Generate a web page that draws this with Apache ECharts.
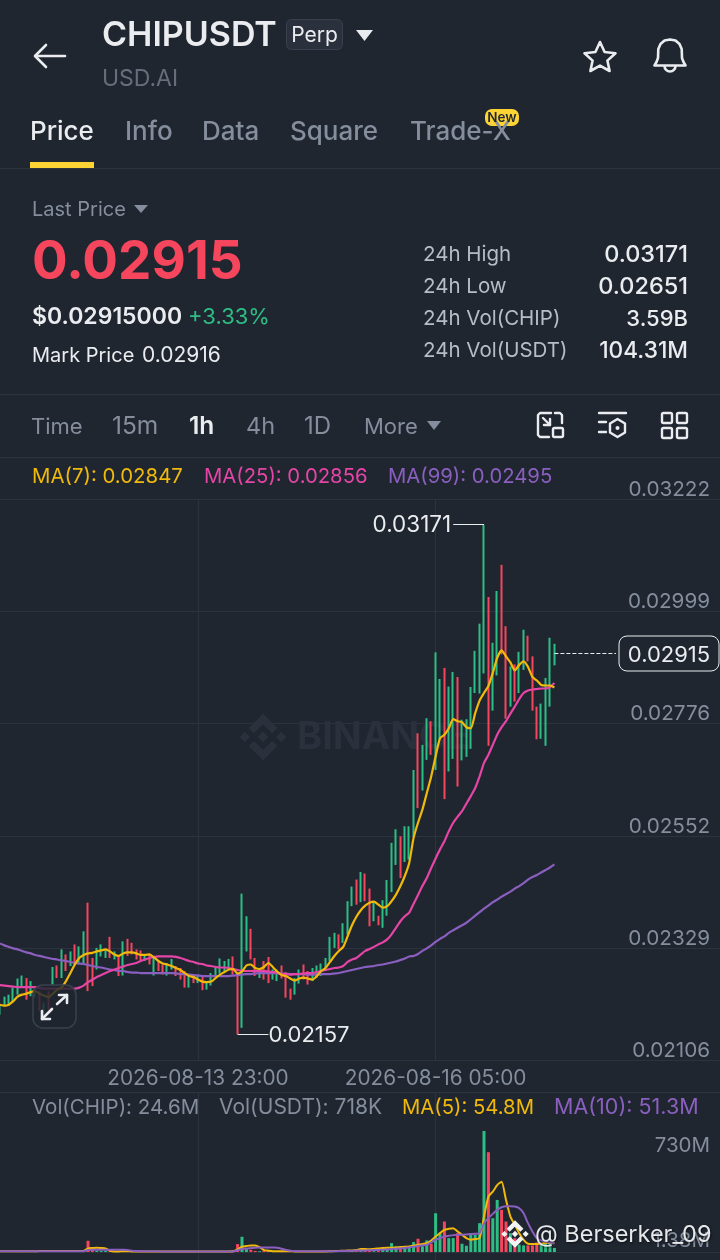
<!DOCTYPE html>
<html><head><meta charset="utf-8">
<style>html,body{margin:0;padding:0;background:#1f2630}#c{width:720px;height:1260px}</style>
<script src="https://cdn.jsdelivr.net/npm/echarts@6/dist/echarts.min.js"></script>
</head><body><div id="c"></div>
<script>
// Prices are in units of 0.00001.
const priceUnit = 0.00001;
const open = [2199,2216,2217,2225,2241,2254,2263,2238,2232,2237,
2203,2237,2261,2290,2278,2311,2297,2330,2301,2308,
2340,2301,2292,2316,2312,2345,2308,2308,2284,2342,
2336,2323,2321,2305,2313,2279,2300,2293,2278,2289,
2290,2286,2278,2254,2271,2262,2269,2249,2258,2276,
2282,2286,2289,2307,2270,2185,2332,2358,2304,2272,
2297,2303,2269,2266,2290,2273,2245,2241,2262,2291,
2279,2267,2273,2277,2292,2310,2334,2351,2345,2366,
2418,2457,2429,2469,2436,2388,2390,2377,2404,2455,
2505,2539,2511,2515,2570,2734,2656,2715,2770,2718,
2761,2847,2705,2731,2835,2714,2720,2743,2849,2856,
2882,2985,2821,2885,3000,2941,2821,2882,2848,2894,
2942,2893,2799,2755,2751,2829,2893];
const close = [2213,2229,2233,2245,2263,2270,2232,2258,2244,2209,
2217,2212,2286,2273,2317,2288,2318,2302,2327,2353,
2262,2261,2323,2332,2324,2315,2320,2279,2332,2318,
2319,2309,2306,2314,2299,2304,2286,2279,2295,2304,
2276,2269,2255,2272,2261,2273,2249,2260,2275,2290,
2304,2300,2304,2281,2170,2400,2382,2315,2278,2286,
2272,2267,2283,2283,2272,2238,2229,2264,2282,2271,
2260,2285,2290,2294,2306,2344,2354,2331,2372,2412,
2445,2423,2471,2430,2383,2416,2377,2416,2453,2523,
2554,2480,2560,2561,2663,2629,2719,2774,2723,2882,
2846,2664,2824,2852,2683,2771,2773,2830,2907,2952,
2956,2775,2916,2980,2940,2813,2877,2830,2906,2950,
2907,2817,2754,2805,2846,2900,2915];
const low = [2196,2213,2214,2220,2236,2250,2226,2233,2230,2203,
2200,2206,2256,2269,2269,2283,2293,2296,2296,2299,
2243,2253,2286,2312,2309,2309,2306,2273,2274,2313,
2316,2306,2303,2303,2296,2274,2283,2276,2274,2286,
2273,2266,2250,2250,2259,2259,2245,2246,2254,2273,
2278,2283,2286,2276,2157,2170,2322,2306,2273,2269,
2266,2259,2266,2263,2268,2230,2226,2236,2258,2266,
2256,2263,2269,2273,2289,2303,2329,2326,2339,2356,
2412,2415,2420,2422,2372,2382,2374,2369,2393,2440,
2494,2468,2500,2505,2550,2607,2642,2703,2713,2683,
2743,2625,2680,2705,2650,2702,2709,2725,2836,2835,
2875,2731,2801,2871,2913,2785,2809,2819,2836,2882,
2899,2801,2744,2745,2731,2809,2891];
const high = [2216,2232,2236,2250,2268,2274,2269,2263,2246,2243,
2220,2243,2291,2294,2326,2316,2322,2336,2332,2362,
2419,2309,2329,2336,2327,2351,2322,2314,2342,2347,
2339,2326,2324,2316,2316,2309,2303,2296,2299,2307,
2293,2289,2283,2276,2273,2276,2273,2263,2279,2293,
2308,2303,2307,2312,2279,2437,2392,2367,2309,2289,
2303,2311,2286,2286,2294,2281,2248,2269,2286,2296,
2283,2289,2294,2298,2309,2351,2359,2356,2378,2422,
2451,2465,2480,2477,2447,2422,2393,2424,2464,2538,
2565,2551,2571,2571,2683,2756,2733,2786,2780,2917,
2864,2886,2849,2878,2868,2783,2784,2848,2920,2974,
3171,3027,2936,3039,3091,2969,2889,2893,2918,2962,
2950,2909,2809,2815,2866,2946,2934];
const ma7 = [2216,2214,2216,2223,2232,2236,2238,2241,2243,2238,
2234,2231,2238,2246,2250,2263,2279,2296,2309,2315,
2318,2319,2322,2324,2326,2322,2316,2313,2318,2320,
2320,2318,2315,2315,2316,2310,2303,2298,2296,2293,
2289,2285,2279,2273,2271,2266,2262,2261,2262,2269,
2276,2281,2286,2287,2278,2282,2294,2296,2289,2287,
2291,2299,2291,2282,2275,2273,2268,2264,2268,2270,
2268,2266,2273,2283,2289,2301,2313,2323,2331,2352,
2374,2391,2404,2413,2419,2421,2415,2409,2412,2422,
2435,2452,2472,2498,2548,2578,2604,2637,2670,2710,
2746,2753,2766,2784,2780,2778,2768,2766,2796,2821,
2836,2850,2876,2906,2921,2909,2897,2881,2892,2899,
2888,2868,2861,2852,2851,2851,2847];
const ma25 = [2255,2254,2253,2252,2251,2251,2251,2251,2251,2249,
2248,2248,2248,2248,2248,2248,2248,2248,2250,2254,
2261,2266,2271,2275,2279,2283,2286,2289,2292,2295,
2297,2299,2303,2306,2309,2311,2312,2312,2312,2312,
2311,2309,2306,2303,2301,2298,2297,2294,2293,2291,
2290,2290,2289,2287,2285,2283,2283,2283,2283,2283,
2283,2282,2281,2280,2277,2277,2276,2277,2277,2278,
2279,2279,2281,2283,2285,2287,2289,2290,2293,2301,
2306,2309,2316,2323,2327,2331,2336,2340,2346,2356,
2369,2382,2392,2399,2417,2434,2452,2468,2488,2507,
2525,2541,2561,2578,2590,2601,2616,2631,2647,2670,
2697,2713,2733,2753,2768,2780,2795,2809,2824,2836,
2841,2843,2844,2845,2845,2848,2856];
const ma99 = [2338,2334,2331,2328,2326,2323,2320,2318,2315,2313,
2311,2309,2307,2306,2304,2303,2301,2299,2298,2297,
2295,2293,2291,2290,2288,2286,2285,2283,2283,2281,
2280,2280,2279,2279,2279,2279,2279,2279,2279,2279,
2278,2277,2277,2276,2275,2274,2273,2273,2273,2273,
2273,2273,2273,2274,2275,2276,2277,2277,2278,2279,
2279,2279,2279,2279,2278,2278,2277,2277,2277,2277,
2276,2276,2276,2277,2277,2277,2278,2279,2281,2283,
2285,2287,2289,2291,2292,2293,2295,2296,2298,2300,
2302,2305,2308,2312,2313,2317,2323,2328,2334,2341,
2347,2352,2359,2364,2369,2374,2379,2386,2393,2400,
2407,2413,2420,2425,2431,2436,2441,2447,2452,2458,
2465,2470,2474,2479,2484,2489,2495];
// Volumes in millions of CHIP.
const volume = [4,5,4,5,6,5,6,5,4,6,
5,6,7,6,8,6,6,7,6,8,
68,14,8,6,7,8,4,6,8,5,
4,4,4,3,4,4,3,3,4,3,
3,3,4,3,3,3,4,3,4,4,
5,4,4,10,48,92,18,14,7,5,
8,10,5,4,5,6,4,5,4,5,
4,4,4,4,5,10,6,5,6,10,
7,6,7,6,8,5,6,14,18,54,
34,18,24,24,60,80,34,70,50,234,
114,184,84,84,114,50,38,114,104,174,
730,602,204,314,254,184,114,84,44,40,
40,40,58,50,50,50,24.6];
const volMa5 = [5,5,5,5,5,5,5,5,5,6,
6,6,6,6,6,6,6,6,6,7,
22,24,26,24,22,8,4,4,5,5,
4,4,4,4,4,4,4,4,4,4,
3,3,3,3,3,3,3,3,4,4,
4,4,4,5,16,32,36,40,40,30,
12,8,5,5,5,5,5,4,4,4,
4,4,4,4,4,5,6,7,8,9,
10,12,18,18,17,20,22,24,26,26,
28,30,32,34,38,44,48,54,70,94,
114,134,140,144,124,104,84,74,78,84,
214,334,364,404,424,314,214,164,114,74,
50,48,48,50,54,54,54.8];
const volMa10 = [5,5,5,5,5,5,5,5,5,5,
5,5,5,5,5,5,5,5,5,5,
12,14,14,14,14,14,14,14,14,12,
8,6,5,5,5,5,4,4,4,4,
4,4,4,4,4,4,4,4,4,4,
4,4,4,4,10,18,22,24,26,27,
28,28,27,26,20,12,8,6,5,5,
5,5,5,5,5,5,5,6,6,7,
8,9,10,10,11,12,13,14,15,18,
20,22,24,28,32,36,40,44,58,74,
84,94,98,102,104,104,106,108,110,114,
174,204,230,254,270,276,276,274,264,234,
174,124,84,70,64,58,51.3];
const xTickLabels = {45:'2026-08-13 23:00', 99:'2026-08-16 05:00'};
const categories = Array.from({length:165},(_,i)=>xTickLabels[i]||'');
const priceTicks = [0.02106,0.02329,0.02552,0.02776,0.02999,0.03222];
const lastPrice = 0.02915, highPrice = 0.03171, lowPrice = 0.02157;
const highIndex = 110, lowIndex = 54, lastIndex = 126;

const toPrice = v => +(v*priceUnit).toFixed(5);
const UP='#2ebd85', DOWN='#f6465d', C7='#f0b90b', C25='#e545a6', C99='#8b5fc0';
const GRID='#2c323e', GREY='#848e9c', FG='#eaecef', F='Inter, "Noto Sans", sans-serif';
const candleData = open.map((o,i)=>[toPrice(o),toPrice(close[i]),toPrice(low[i]),toPrice(high[i])]);
const volData = volume.map((v,i)=>({value:v,itemStyle:{color:close[i]>=open[i]?UP:DOWN}}));
const isTick = i => i in xTickLabels;
const line=(name,data,color,xi,yi,w)=>({name,type:'line',data,xAxisIndex:xi,yAxisIndex:yi,showSymbol:false,symbol:'none',smooth:0.2,
  lineStyle:{color,width:w},itemStyle:{color},silent:true,z:3,clip:true,animation:false});

const t=(text,x,y,fill,font,align)=>({type:'text',z:50,silent:true,style:{text,x,y:y+1,fill,font:font+' '+F,textAlign:align||'left',textVerticalAlign:'middle'}});
const pl=(pts,stroke,w,extra)=>({type:'polyline',z:50,silent:true,shape:{points:pts},style:Object.assign({stroke,lineWidth:w,fill:null,lineCap:'round',lineJoin:'round'},extra||{})});
const rr=(x,y,w,h,r,style,z)=>({type:'rect',z:z||49,silent:true,shape:{x,y,width:w,height:h,r},style});
const tri=(x0,x1,y0,y1,fill)=>({type:'polygon',z:50,silent:true,shape:{points:[[x0,y0],[x1,y0],[(x0+x1)/2,y1]]},style:{fill}});
const hl=(y)=>rr(0,y,720,1.2,0,{fill:GRID},1);
const logoShapes=[
 [[16,6],[22.146,12.146],[19.886,14.406],[16,10.52],[12.116,14.404],[9.856,12.144]],
 [[16,26],[22.146,19.854],[19.886,17.594],[16,21.48],[12.116,17.596],[9.856,19.856]],
 [[6,16],[8.26,13.74],[10.52,16],[8.26,18.26]],
 [[21.48,16],[23.74,13.74],[26,16],[23.74,18.26]],
 [[16,13.706],[18.294,16],[16,18.294],[13.706,16]]
];
const logo=(x,y,s,fill,z)=>logoShapes.map(pts=>({type:'polygon',z,silent:true,shape:{points:pts.map(p=>[x+p[0]*s/32,y+p[1]*s/32])},style:{fill}}));

const graphics=[
 pl([[65,56],[36,56]],FG,2.6), pl([[46,45],[35,56],[46,67]],FG,2.6),
 t('CHIPUSDT',102,35,FG,'600 34px'),
 rr(286.5,19.5,56,30,5,{fill:'#2a303c',stroke:'#3a414e',lineWidth:1}),
 t('Perp',314.5,35,FG,'400 21px','center'),
 tri(356,373,30,41,FG),
 t('USD.AI',102,78,'#666e7b','400 23px'),
 {type:'polygon',z:50,silent:true,shape:{points:[[600,42],[604.6,52],[615.5,53.2],[607.4,60.6],[609.6,71],[600,65.6],[590.4,71],[592.6,60.6],[584.5,53.2],[595.4,52]]},style:{stroke:FG,lineWidth:2.6,fill:null,lineJoin:'round'}},
 pl([[670,39.5],[664.5,40.5],[660.5,44],[658.3,49],[658,58],[656.5,62],[654.5,65.5],[685.5,65.5],[683.5,62],[682,58],[681.7,49],[679.5,44],[675.5,40.5],[670,39.5]],FG,2.6),
 {type:'arc',z:50,silent:true,shape:{cx:670,cy:66,r:5.5,startAngle:0,endAngle:Math.PI},style:{stroke:FG,lineWidth:2.6,fill:null}},
 t('Price',30,131,FG,'500 26px'), t('Info',125,131,GREY,'500 26px'), t('Data',202,131,GREY,'500 26px'),
 t('Square',290,131,GREY,'500 26px'), t('Trade-X',410,131,GREY,'500 26px'),
 rr(485,109,34,17,7,{fill:'#fcd535'}), t('New',502,116.5,'#1f2630','600 13.5px','center'),
 rr(30,162,64,6,0,{fill:'#fcd535'}), hl(168),
 t('Last Price',32,208.5,GREY,'400 20px'), tri(134,148,205,213,GREY),
 t('0.02915',32,262,DOWN,'700 53px'),
 t('$0.02915000',32,316,FG,'600 23px'), t('+3.33%',188,316,UP,'400 22px'),
 t('Mark Price',32,355,FG,'400 20px'), t('0.02916',142,355,FG,'400 21px'),
 t('24h High',423,254,'#b7bdc6','400 20.5px'), t('0.03171',688,254,FG,'500 23.5px','right'),
 t('24h Low',423,286,'#b7bdc6','400 20.5px'), t('0.02651',688,286,FG,'500 23.5px','right'),
 t('24h Vol(CHIP)',423,318,'#b7bdc6','400 20.5px'), t('3.59B',688,318,FG,'500 22px','right'),
 t('24h Vol(USDT)',423,350,'#b7bdc6','400 20.5px'), t('104.31M',688,350,FG,'500 22.7px','right'),
 hl(394),
 t('Time',31,426,GREY,'400 22px'), t('15m',112,426,GREY,'400 24.5px'), t('1h',189,426,FG,'600 24.5px'),
 t('4h',246,426,GREY,'400 23.5px'), t('1D',304,426,GREY,'400 24px'), t('More',364,426,GREY,'400 22px'), tri(427,441,421,430,GREY),
 pl([[551,413],[540,413],[538,415],[538,435],[540,437],[549,437]],FG,2.4), pl([[555,413],[560,413],[562,415],[562,423]],FG,2.4),
 rr(553,428,10,9,1.5,{stroke:FG,lineWidth:2.4,fill:null},50), pl([[543,418],[550,425]],FG,2.4), pl([[550,419],[550,425],[544,425]],FG,2.4),
 pl([[599,413],[626,413]],FG,2.4), pl([[599,422],[606,422]],FG,2.4), pl([[599,432],[606,432]],FG,2.4),
 {type:'polygon',z:50,silent:true,shape:{points:[[617.5,419],[625,423.5],[625,432.5],[617.5,437],[610,432.5],[610,423.5]]},style:{stroke:FG,lineWidth:2.4,fill:null,lineJoin:'round'}},
 {type:'circle',z:50,silent:true,shape:{cx:617.5,cy:428,r:2},style:{fill:FG}},
 rr(662,413,10,10,1.5,{stroke:FG,lineWidth:2.4,fill:null},50), rr(677,413,10,10,1.5,{stroke:FG,lineWidth:2.4,fill:null},50),
 rr(662,428,10,10,1.5,{stroke:FG,lineWidth:2.4,fill:null},50), rr(677,428,10,10,1.5,{stroke:FG,lineWidth:2.4,fill:null},50),
 hl(457),
 t('MA(7): 0.02847',32,476,C7,'400 20.4px'), t('MA(25): 0.02856',204,476,C25,'400 20.3px'), t('MA(99): 0.02495',388,476,C99,'400 20.3px'),
 ...logo(225.5,699.5,75,'#2a303c',1),
 {type:'text',z:1,silent:true,style:{text:'BINANCE',x:297,y:738,fill:'#2a303c',font:'700 38px '+F,textAlign:'left',textVerticalAlign:'middle'}},
 rr(33,985,43,43,10,{fill:'rgba(31,38,48,0.82)',stroke:'#3a414e',lineWidth:1.5},40),
 pl([[57,1004],[67,995]],FG,2.6), pl([[59,995],[67,995],[67,1003]],FG,2.6),
 pl([[52,1009],[42,1019]],FG,2.6), pl([[42,1011],[42,1019],[50,1019]],FG,2.6),
 rr(619,636,100,35,8,{fill:'#1f2630',stroke:FG,lineWidth:1},45), t('0.02915',669,654,FG,'400 22px','center'),
 hl(1092),
 t('Vol(CHIP): 24.6M',32,1107,GREY,'400 20.5px'), t('Vol(USDT): 718K',219,1107,GREY,'400 21px'),
 t('MA(5): 54.8M',402,1107,C7,'400 20.3px'), t('MA(10): 51.3M',554,1107,C99,'400 21.5px'),
 t('730M',710,1145,GREY,'400 20.5px','right'), t('1.38M',710,1240,GREY,'400 20.5px','right'),
 ...logo(493,1212,44,'#f2f3f5',60),
 {type:'text',z:60,silent:true,style:{text:'@ Berserker_09',x:535,y:1235,fill:'#e6e7ea',font:'400 23.5px '+F,textAlign:'left',textVerticalAlign:'middle',textShadowColor:'rgba(0,0,0,0.55)',textShadowBlur:2,textShadowOffsetX:1,textShadowOffsetY:1}}
];

const chart = echarts.init(document.getElementById('c'),null,{renderer:'canvas',width:720,height:1260});
chart.setOption({
 animation:false,
 backgroundColor:'#1f2630',
 graphic:{elements:graphics},
 grid:[{left:0,width:721.6,top:499,height:561,outerBoundsMode:'none'},{left:0,width:721.6,top:1092,height:168,outerBoundsMode:'none'}],
 xAxis:[
  {type:'category',gridIndex:0,data:categories,boundaryGap:false,
   axisLine:{show:true,lineStyle:{color:GRID}},axisTick:{show:false},
   axisLabel:{interval:(i)=>isTick(i),color:GREY,fontSize:20.8,fontFamily:F,margin:8,hideOverlap:false},
   splitLine:{show:true,interval:(i)=>isTick(i),lineStyle:{color:GRID,width:1}}},
  {type:'category',gridIndex:1,data:categories,boundaryGap:false,
   axisLine:{show:false},axisTick:{show:false},axisLabel:{show:false},
   splitLine:{show:true,interval:(i)=>isTick(i),lineStyle:{color:GRID,width:1}}}
 ],
 yAxis:[
  {type:'value',gridIndex:0,position:'right',min:0.02106,max:0.03222,scale:true,
   axisLine:{show:false},axisTick:{show:false,customValues:priceTicks},
   axisLabel:{inside:true,customValues:priceTicks,color:GREY,fontSize:20.7,fontFamily:F,margin:11.5,verticalAlign:'bottom',lineHeight:18,
     formatter:v=>v.toFixed(5),showMinLabel:true,showMaxLabel:true},
   splitLine:{show:true,lineStyle:{color:GRID,width:1}}},
  {type:'value',gridIndex:1,position:'right',min:-48,max:965,
   axisLine:{show:false},axisTick:{show:false,customValues:[0]},axisLabel:{show:false},
   splitLine:{show:true,lineStyle:{color:GRID,width:1}}}
 ],
 series:[
  {name:'Price',type:'candlestick',data:candleData,xAxisIndex:0,yAxisIndex:0,barWidth:1.2,z:2,silent:true,
   itemStyle:{color:UP,color0:DOWN,borderColor:UP,borderColor0:DOWN,borderWidth:2},
   markLine:{silent:true,symbol:'none',label:{show:false},animation:false,data:[
     [{coord:[highIndex,highPrice],lineStyle:{color:FG,width:1,type:'solid'}},{coord:[highIndex-7,highPrice]}],
     [{coord:[lowIndex,lowPrice],lineStyle:{color:FG,width:1,type:'solid'}},{coord:[lowIndex+7,lowPrice]}],
     [{coord:[lastIndex,lastPrice],lineStyle:{color:FG,width:1,type:'dashed'}},{coord:[140,lastPrice]}]
   ]},
   markPoint:{silent:true,symbol:'circle',symbolSize:0,animation:false,data:[
     {coord:[highIndex-7,highPrice],label:{show:true,position:'left',distance:2,formatter:highPrice.toFixed(5),color:FG,fontSize:22.5,fontFamily:F,lineHeight:26,offset:[0,1]}},
     {coord:[lowIndex+7,lowPrice],label:{show:true,position:'right',distance:0,formatter:lowPrice.toFixed(5),color:FG,fontSize:22,fontFamily:F,lineHeight:26,offset:[0,1]}}
   ]}},
  line('MA(99)',ma99.map(toPrice),C99,0,0,2.2),
  line('MA(25)',ma25.map(toPrice),C25,0,0,2.2),
  line('MA(7)',ma7.map(toPrice),C7,0,0,2.2),
  {name:'Vol',type:'bar',data:volData,xAxisIndex:1,yAxisIndex:1,barWidth:3,silent:true,z:2},
  line('MA(5)',volMa5,C7,1,1,2),
  line('MA(10)',volMa10,C99,1,1,2)
 ]
});
</script></body></html>
